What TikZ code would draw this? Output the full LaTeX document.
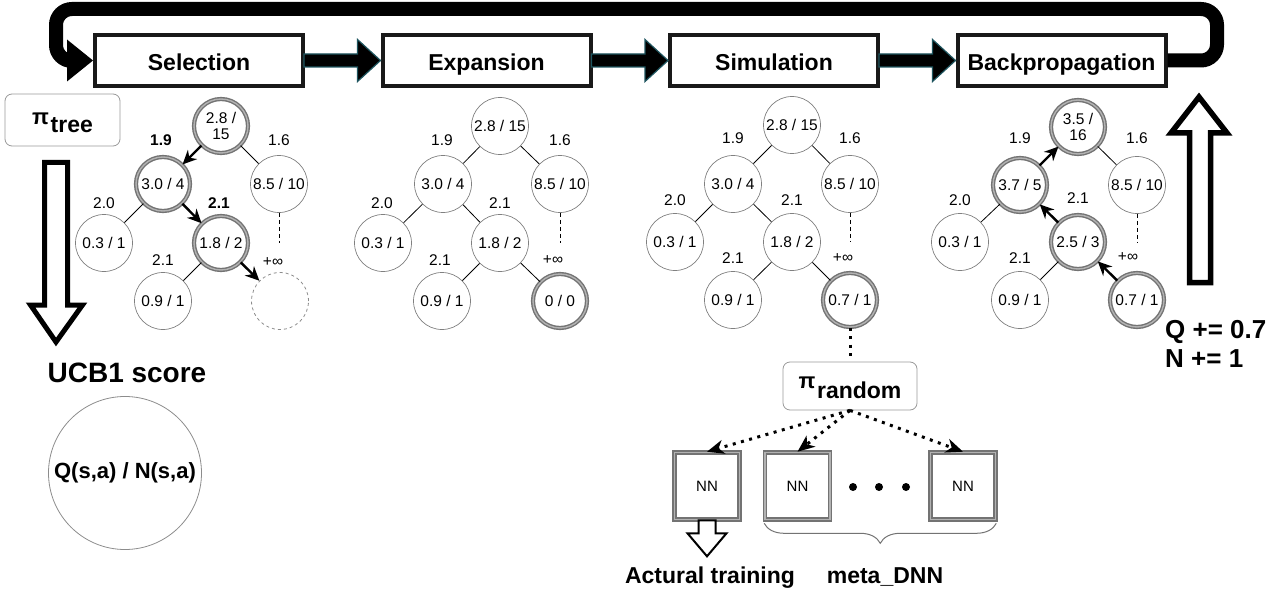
\documentclass[tikz,border=0pt]{standalone}
\usepackage{fontspec}
\setmainfont{Liberation Sans}
\usetikzlibrary{arrows.meta,calc,decorations.pathreplacing}
\newcommand\setfs[1]{\fontsize{#1}{#1}\selectfont}
\definecolor{arrteal}{RGB}{30,85,95}
\newcommand\stagearrow[2]{%
 \draw[barrow] ($(#1.east)+(-1,-6.5)$) -- ($(#2.west)+(-23,-6.5)$) -- ($(#2.west)+(-23,-21)$) -- (#2.west) -- ($(#2.west)+(-23,21)$) -- ($(#2.west)+(-23,6.5)$) -- ($(#1.east)+(-1,6.5)$) -- cycle;}
\begin{document}
\begin{tikzpicture}[x=1pt,y=-1pt,
 stage/.style={draw=black!90, line width=4, minimum width=208, minimum height=51, inner sep=0, font=\setfs{23}\bfseries, fill=white, text height=21, text depth=0},
 barrow/.style={fill=black, draw=arrteal, line width=1.2, line join=miter},
 circ/.style={circle, draw=black!50, line width=0.7, minimum size=57, inner sep=0, font=\setfs{15.5}, align=center},
 hl/.style={draw=black!55, line width=1.4, double=black!30, double distance=1.4, minimum size=54},
 ghost/.style={circle, draw=black!45, line width=0.8, dashed, minimum size=57, inner sep=0},
 lbl/.style={font=\setfs{15.5}, inner sep=0},
 tedge/.style={line width=0.8, black},
 tarrow/.style={line width=2.4, -{Stealth[length=14,width=13]}},
 vdash/.style={line width=0.8, dash pattern=on 4 off 3},
 pibox/.style={draw=black!40, line width=0.8, rounded corners=7, text depth=0},
 hollow/.style={draw=black, fill=white, line join=miter},
 nn/.style={rectangle, draw=black!55, line width=1.6, double=black!30, double distance=1.6, minimum width=65, minimum height=67, inner sep=0, font=\setfs{15}},
 dotline/.style={line width=3, dash pattern=on 3 off 5.5},
 dotarr/.style={dotline, -{Stealth[length=17,width=14,inset=5]}},
 big/.style={font=\setfs{#1}\bfseries, inner sep=0}
]
\useasboundingbox (0,0) rectangle (1269,591);

% stages
\node[stage] (sel) at (199,60.5) {Selection};
\node[stage] (exp) at (486.5,60.5) {Expansion};
\node[stage] (sim) at (774,60.5) {Simulation};
\node[stage] (bp) at (1061.5,60.5) {Backpropagation};
\stagearrow{sel}{exp}
\stagearrow{exp}{sim}
\stagearrow{sim}{bp}

% loop
\coordinate (lp1) at (1217,60.5);
\coordinate (lp2) at (1217,9);
\coordinate (lp3) at (56,9);
\coordinate (lp4) at (56,61);
\coordinate (lp5) at (70,61);
\draw[line width=14, rounded corners=16] (bp.east) -- (lp1) -- (lp2) -- (lp3) -- (lp4) -- (lp5);
\fill (sel.west) -- ++(-26,-21) -- ++(0,42) -- cycle;

% pi tree
\node[pibox, minimum width=115, minimum height=52, text height=26] (ptree) at (62.5,120)
 {\raisebox{9pt}{\setfs{22}\bfseries π}\,{\setfs{23}\bfseries tree}};
\draw[hollow, line width=5] (44.5,162.5) -- (67.5,162.5) -- (67.5,305) -- (82.5,305) -- (56,342) -- (30.5,305) -- (44.5,305) -- cycle;
\node[big=28, anchor=base] (ucb) at (127,382) {UCB1 score};
\node[circle, draw=black!45, line width=0.8, minimum size=153, inner sep=0, font=\setfs{22}\bfseries] (qn) at (125,473) {Q(s,a) / N(s,a)};

% ---------- Selection tree
\node[circ, hl] (s0) at (221,126) {2.8 /\\[1pt]15};
\node[circ, hl] (s1) at (163,184) {3.0 / 4};
\node[circ] (s2) at (279,184) {8.5 / 10};
\node[circ] (s3) at (104,243) {0.3 / 1};
\node[circ, hl] (s4) at (221,243) {1.8 / 2};
\node[circ] (s5) at (163,301) {0.9 / 1};
\node[ghost] (s6) at (280,301) {};
\coordinate (s2d) at (279,243);
\draw[tedge] (s0) -- (s2);
\draw[tedge] (s1) -- (s3);
\draw[tedge] (s4) -- (s5);
\draw[vdash] (s2) -- (s2d);
\draw[tarrow] (s0) -- (s1);
\draw[tarrow] (s1) -- (s4);
\draw[tarrow] (s4) -- (s6);
\node[lbl, font=\setfs{15.5}\bfseries] (sl1) at (161,140) {1.9};
\node[lbl] (sl2) at (279,140) {1.6};
\node[lbl] (sl3) at (104,203) {2.0};
\node[lbl, font=\setfs{15.5}\bfseries] (sl4) at (219,203) {2.1};
\node[lbl] (sl5) at (163,260) {2.1};
\node[lbl] (sl6) at (273,262) {+∞};

% ---------- Expansion tree
\node[circ] (e0) at (500,126) {2.8 / 15};
\node[circ] (e1) at (443,184) {3.0 / 4};
\node[circ] (e2) at (560,184) {8.5 / 10};
\node[circ] (e3) at (383,243) {0.3 / 1};
\node[circ] (e4) at (500,243) {1.8 / 2};
\node[circ] (e5) at (442,301) {0.9 / 1};
\node[circ, hl] (e6) at (560,301) {0 / 0};
\coordinate (e2d) at (560,243);
\draw[tedge] (e0) -- (e1);
\draw[tedge] (e0) -- (e2);
\draw[tedge] (e1) -- (e3);
\draw[tedge] (e1) -- (e4);
\draw[tedge] (e4) -- (e5);
\draw[tedge] (e4) -- (e6);
\draw[vdash] (e2) -- (e2d);
\node[lbl] (el1) at (442,140) {1.9};
\node[lbl] (el2) at (560,140) {1.6};
\node[lbl] (el3) at (382,203) {2.0};
\node[lbl] (el4) at (500,203) {2.1};
\node[lbl] (el5) at (440,260) {2.1};
\node[lbl] (el6) at (553,260) {+∞};

% ---------- Simulation tree
\node[circ] (m0) at (792,125) {2.8 / 15};
\node[circ] (m1) at (733,184) {3.0 / 4};
\node[circ] (m2) at (850,184) {8.5 / 10};
\node[circ] (m3) at (675,242) {0.3 / 1};
\node[circ] (m4) at (792,242) {1.8 / 2};
\node[circ] (m5) at (733,300) {0.9 / 1};
\node[circ, hl] (m6) at (850,300) {0.7 / 1};
\coordinate (m2d) at (850,242);
\draw[tedge] (m0) -- (m1);
\draw[tedge] (m0) -- (m2);
\draw[tedge] (m1) -- (m3);
\draw[tedge] (m1) -- (m4);
\draw[tedge] (m4) -- (m5);
\draw[tedge] (m4) -- (m6);
\draw[vdash] (m2) -- (m2d);
\node[lbl] (ml1) at (733,138) {1.9};
\node[lbl] (ml2) at (850,138) {1.6};
\node[lbl] (ml3) at (675,200) {2.0};
\node[lbl] (ml4) at (792,200) {2.1};
\node[lbl] (ml5) at (733,258) {2.1};
\node[lbl] (ml6) at (843,258) {+∞};

% pi random and NNs
\node[pibox, minimum width=134, minimum height=48, text height=24] (prand) at (850,386)
 {\raisebox{10pt}{\setfs{22}\bfseries π}\,{\setfs{23}\bfseries random}};
\draw[dotline] (m6) -- (prand);
\node[nn] (nn1) at (707,486) {NN};
\node[nn] (nn2) at (797.5,486) {NN};
\node[nn] (nn3) at (963,486) {NN};
\draw[dotarr] (prand.south) -- (nn1.north);
\draw[dotarr] (prand.south) -- (nn2.north);
\draw[dotarr] (prand.south) -- (nn3.north);
\fill (853,487) circle (4);
\fill (879,487) circle (4);
\fill (906,487) circle (4);
\draw[black!55, line width=1, decorate, decoration={brace, mirror, amplitude=20}] ([yshift=-3]nn2.south west) -- ([yshift=-3]nn3.south east);
\draw[hollow, line width=2] ($(nn1.south)+(-8.5,0)$) -- ++(17,0) -- ++(0,13) -- ++(11,0) -- ++(-19.5,23) -- ++(-19.5,-23) -- ++(11,0) -- cycle;
\node[big=23, anchor=base] (actt) at (710,583) {Actural training};
\node[big=23, anchor=base] (meta) at (885,583) {meta\_DNN};

% ---------- Backpropagation tree
\node[circ, hl] (b0) at (1078,127) {3.5 /\\[1pt]16};
\node[circ, hl] (b1) at (1020,185) {3.7 / 5};
\node[circ] (b2) at (1137,185) {8.5 / 10};
\node[circ] (b3) at (960,242) {0.3 / 1};
\node[circ, hl] (b4) at (1078,242) {2.5 / 3};
\node[circ] (b5) at (1020,300) {0.9 / 1};
\node[circ, hl] (b6) at (1137,300) {0.7 / 1};
\coordinate (b2d) at (1137,242);
\draw[tedge] (b0) -- (b2);
\draw[tedge] (b1) -- (b3);
\draw[tedge] (b4) -- (b5);
\draw[vdash] (b2) -- (b2d);
\draw[tarrow] (b6) -- (b4);
\draw[tarrow] (b4) -- (b1);
\draw[tarrow] (b1) -- (b0);
\node[lbl] (bl1) at (1020,138) {1.9};
\node[lbl] (bl2) at (1137,138) {1.6};
\node[lbl] (bl3) at (960,200) {2.0};
\node[lbl] (bl4) at (1078,198) {2.1};
\node[lbl] (bl5) at (1020,258) {2.1};
\node[lbl] (bl6) at (1128,257) {+∞};

\draw[hollow, line width=5.5] (1189.5,282.5) -- (1210.5,282.5) -- (1210.5,133) -- (1227,133) -- (1199,97) -- (1171,133) -- (1189.5,133) -- cycle;
\node[big=26, anchor=base west] (qtxt) at (1165,338) {Q += 0.7};
\node[big=26, anchor=base west] (ntxt) at (1165,367) {N += 1};
\end{tikzpicture}
\end{document}
